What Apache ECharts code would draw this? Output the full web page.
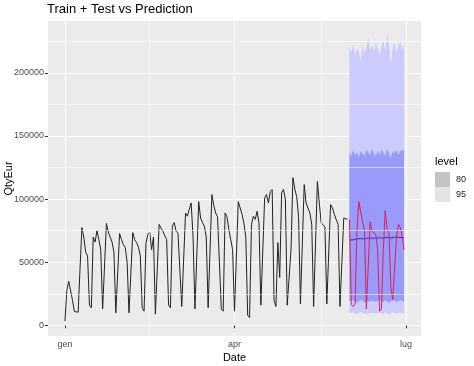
<!DOCTYPE html>
<html>
<head>
<meta charset="utf-8">
<script src="https://cdn.jsdelivr.net/npm/echarts@6/dist/echarts.min.js"></script>
<style>
html,body{margin:0;padding:0;background:#fff;}
#c{width:474px;height:366px;}
</style>
</head>
<body>
<div id="c"></div>
<script>
// ---- data ----
const axisStartDate = '2017-12-23';
const axisDays = 199;
const trainStart = '2018-01-01';
const testStart = '2018-06-01';
const tickDates = ['2018-01-01', '2018-04-01', '2018-07-01'];
const tickLabels = ['gen', 'apr', 'lug'];
const minorDates = ['2018-02-15', '2018-05-17'];
const yTicks = [0, 50000, 100000, 150000, 200000];
const yMinor = [25000, 75000, 125000, 175000, 225000];

const trainValues = [
  3400, 28000, 35000, 34000, 20000, 11000, 10000,
  10500, 45000, 77500, 70000, 58000, 55000, 16000,
  14000, 70000, 66000, 75000, 68000, 60000, 13000,
  12700, 80700, 74000, 70000, 66000, 58000, 10000,
  9500, 72800, 68000, 64000, 61700, 50000, 10000,
  9500, 73500, 68000, 65600, 62000, 55000, 14000,
  11300, 65000, 72000, 73800, 60000, 70000, 9000,
  8700, 80000, 77000, 74600, 71000, 68000, 16000,
  14000, 78600, 81400, 74600, 73000, 72000, 15000,
  16000, 89000, 86500, 92000, 97000, 70000, 13000,
  12700, 98000, 85000, 81400, 78600, 70000, 14000,
  12700, 103600, 95000, 89000, 86000, 85000, 13000,
  11300, 89000, 86000, 76000, 68000, 60000, 11300,
  12000, 98000, 93000, 88000, 81000, 70000, 8000,
  6300, 80000, 86500, 84000, 90400, 81000, 16000,
  15000, 101000, 103600, 97000, 106000, 107600, 20000,
  15000, 65600, 38000, 105000, 107600, 100000, 16000,
  15000, 60000, 117000, 108000, 102000, 86500, 17000,
  16600, 111500, 97000, 98000, 89000, 80000, 15000,
  14000, 114000, 97000, 81400, 82000, 78000, 17000,
  16600, 95700, 93000, 88000, 83800, 80000, 15000,
  16000, 85000, 86000, 84000
];
const testValues = [
  84000, 16600, 15000, 17000, 75000, 98000, 90000, 82000, 75000, 13000,
  12600, 82000, 74600, 76000, 72000, 60000, 11300, 13000, 60000, 91000,
  76000, 73600, 30000, 20500, 21000, 70000, 80000, 77500, 70600, 60000
];
const forecastMean = [
  67500, 67000, 67800, 68200, 68500, 68000, 68800, 69200, 68500, 69000,
  69300, 68600, 69000, 69500, 69200, 68800, 69400, 69600, 69000, 69300,
  69800, 69500, 69100, 69600, 69900, 69400, 69700, 70000, 69600, 69400
];
const hi95 = [
  221000, 216000, 222000, 214000, 219000, 217000, 209000, 223000, 215000, 220000,
  228000, 218000, 222000, 216000, 224000, 219000, 213000, 221000, 226000, 217000,
  230000, 222000, 207000, 219000, 224000, 216000, 221000, 225000, 218000, 223000
];
const hi80 = [
  137000, 134000, 139000, 135000, 137000, 133000, 138000, 136000, 134000, 139000,
  137000, 135000, 140000, 136000, 134000, 138000, 135000, 139000, 137000, 134000,
  140000, 136000, 133000, 138000, 136000, 139000, 135000, 138000, 137000, 139000
];
const lo80 = [
  19500, 18500, 20000, 19000, 18000, 19800, 20500, 19000, 18500, 20000,
  19200, 18000, 19500, 20500, 19000, 18800, 20000, 19500, 18500, 20200,
  19000, 18200, 19800, 20400, 19300, 18600, 19900, 20300, 19100, 18700
];
const lo95 = [
  10000, 9000, 10500, 9500, 8800, 10200, 10800, 9300, 9000, 10400,
  9700, 8700, 10000, 10800, 9400, 9200, 10300, 9900, 8900, 10600,
  9500, 8600, 10100, 10700, 9600, 9000, 10200, 10500, 9400, 9100
];

// ---- build category axis (one per day) ----
function iso(t){ return new Date(t).toISOString().slice(0,10); }
const t0 = Date.parse(axisStartDate + 'T00:00:00Z');
const categories = [];
for (let i = 0; i < axisDays; i++) categories.push(iso(t0 + i*86400000));
const trainIdx = categories.indexOf(trainStart);
const testIdx = categories.indexOf(testStart);

function place(values, startIdx){
  const arr = new Array(categories.length).fill('-');
  values.forEach((v,i)=>{ arr[startIdx+i] = v; });
  return arr;
}
const band95 = hi95.map((v,i)=>v - lo95[i]);
const band80 = hi80.map((v,i)=>v - lo80[i]);
const tickSet = {};
tickDates.forEach((d,i)=>{ tickSet[d] = tickLabels[i]; });
const isTick = (idx) => categories[idx] in tickSet;

const chart = echarts.init(document.getElementById('c'), null, {renderer:'canvas'});
const textFont = 'Liberation Sans, Arial, sans-serif';
chart.setOption({
  animation: false,
  textStyle: { fontFamily: textFont },
  title: [
    { text: 'Train + Test vs Prediction', left: 47, top: 3, padding: 0,
      textStyle: { fontSize: 13, fontWeight: 'normal', color: '#000', fontFamily: textFont } },
    { text: 'level', left: 435, top: 156, padding: 0,
      textStyle: { fontSize: 11, fontWeight: 'normal', color: '#000', fontFamily: textFont } }
  ],
  legend: {
    orient: 'vertical', left: 435, top: 172, padding: 0, itemGap: 0,
    itemWidth: 15, itemHeight: 15, icon: 'rect',
    textStyle: { fontSize: 9, color: '#1a1a1a', fontFamily: textFont, padding: [0,0,0,1] },
    data: [
      { name: '80', itemStyle: { color: '#C4C4C4' } },
      { name: '95', itemStyle: { color: '#E3E3E3' } }
    ]
  },
  grid: { left: 48, right: 53, top: 21, bottom: 30, show: true, containLabel: false,
          outerBoundsMode: 'none',
          backgroundColor: '#EBEBEB', borderWidth: 0 },
  xAxis: {
    type: 'category', data: categories, boundaryGap: false,
    name: 'Date', nameLocation: 'middle', nameGap: 16, nameMoveOverlap: false,
    nameTextStyle: { fontSize: 11, color: '#000', fontFamily: textFont },
    axisLine: { show: false },
    axisTick: { show: true, length: 3, interval: (i)=>isTick(i), lineStyle: { color: '#333', width: 1 } },
    axisLabel: { interval: (i)=>isTick(i), formatter: (v)=>tickSet[v] || '',
                 color: '#4D4D4D', fontSize: 9, margin: 4, fontFamily: textFont },
    splitLine: { show: true, interval: (i)=>isTick(i), lineStyle: { color: '#FFFFFF', width: 1.1 } }
  },
  yAxis: {
    type: 'value', min: -8350, max: 241000, splitNumber: 5,
    name: 'QtyEur', nameLocation: 'middle', nameGap: 34, nameMoveOverlap: false,
    nameTextStyle: { fontSize: 11, color: '#000', fontFamily: textFont },
    axisLine: { show: false },
    axisTick: { show: true, length: 3, customValues: yTicks, lineStyle: { color: '#333', width: 1 } },
    axisLabel: { customValues: yTicks, formatter: (v)=>String(v),
                 color: '#4D4D4D', fontSize: 9, margin: 4, fontFamily: textFont },
    splitLine: { show: true, lineStyle: { color: '#FFFFFF', width: 1.1 } }
  },
  series: [
    { type: 'line', name: 'minorgrid', data: categories.map(()=>'-'), z: 1, silent: true,
      symbol: 'none',
      markLine: { silent: true, symbol: 'none', label: { show: false }, animation: false,
        lineStyle: { color: '#FFFFFF', width: 0.55, type: 'solid' },
        data: yMinor.map(v=>({ yAxis: v })).concat(minorDates.map(d=>({ xAxis: d }))) } },
    { type: 'line', name: 'lo95base', stack: 'b95', data: place(lo95, testIdx),
      symbol: 'none', lineStyle: { width: 0, opacity: 0 }, silent: true },
    { type: 'line', name: '95', stack: 'b95', data: place(band95, testIdx),
      symbol: 'none', lineStyle: { width: 0, opacity: 0 }, silent: true,
      itemStyle: { color: '#CBCBFD' },
      areaStyle: { color: '#CBCBFD', opacity: 1 } },
    { type: 'line', name: 'lo80base', stack: 'b80', data: place(lo80, testIdx),
      symbol: 'none', lineStyle: { width: 0, opacity: 0 }, silent: true },
    { type: 'line', name: '80', stack: 'b80', data: place(band80, testIdx),
      symbol: 'none', lineStyle: { width: 0, opacity: 0 }, silent: true,
      itemStyle: { color: '#9A9AFB' },
      areaStyle: { color: '#9A9AFB', opacity: 1 } },
    { type: 'line', name: 'train', data: place(trainValues, trainIdx),
      symbol: 'none', lineStyle: { color: '#222222', width: 1 } },
    { type: 'line', name: 'mean', data: place(forecastMean, testIdx),
      symbol: 'none', lineStyle: { color: '#2E2ECC', width: 1 } },
    { type: 'line', name: 'test', data: place(testValues, testIdx),
      symbol: 'none', lineStyle: { color: '#DC1E5A', width: 1 } }
  ]
});
</script>
</body>
</html>
